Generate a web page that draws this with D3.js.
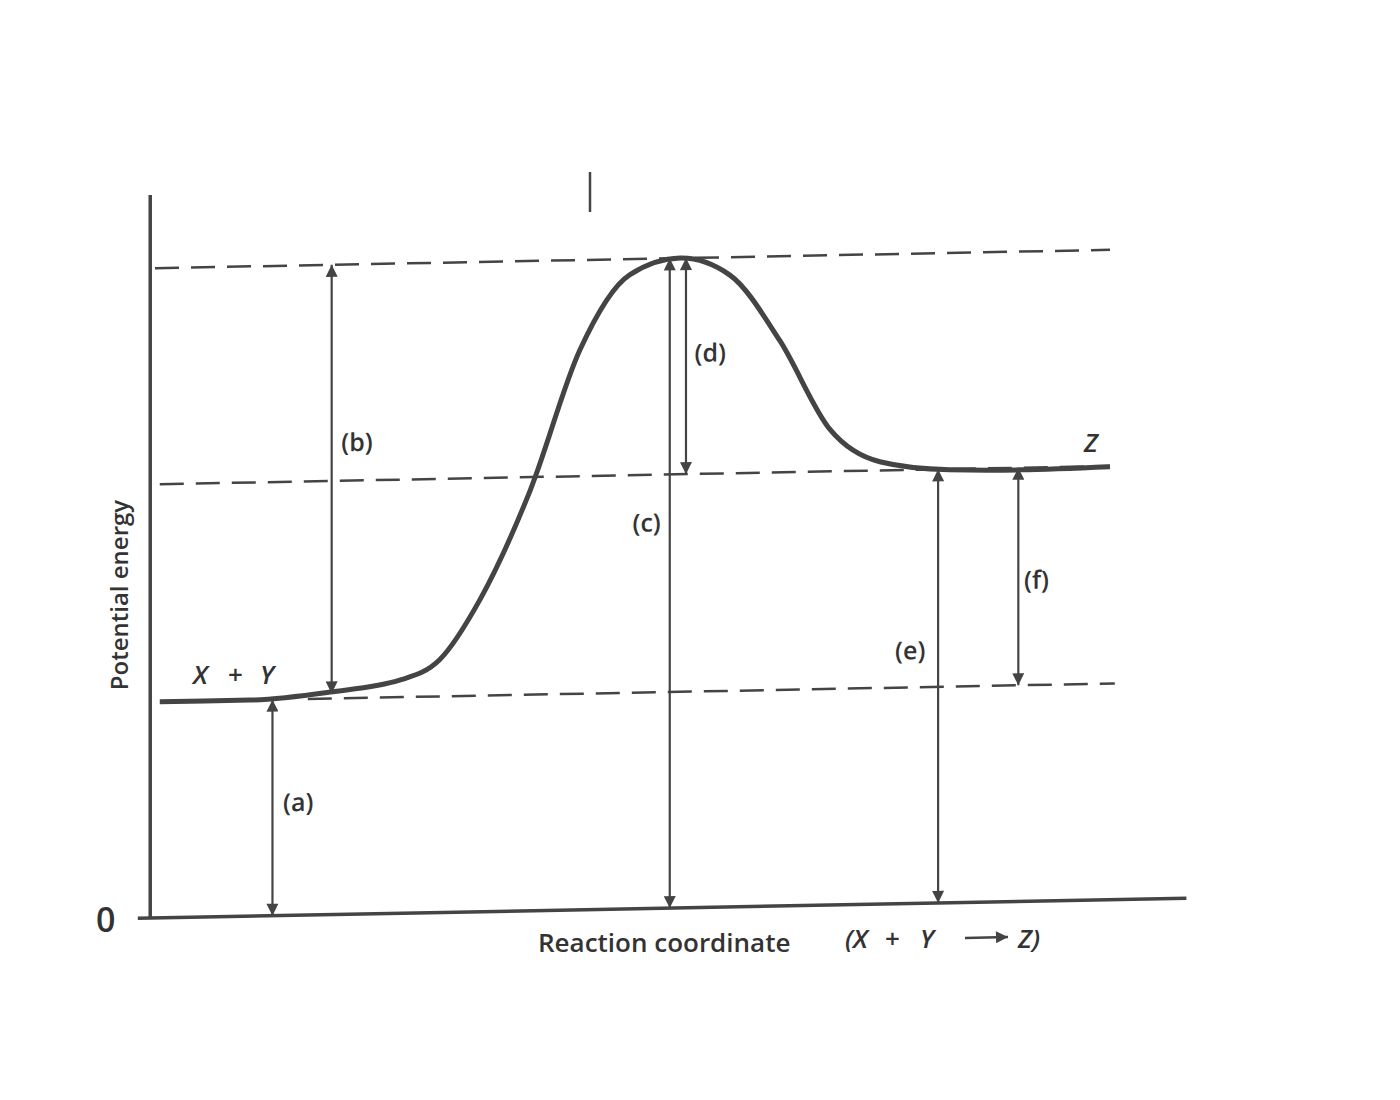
<!DOCTYPE html>
<html><head><meta charset="utf-8">
<script src="https://cdn.jsdelivr.net/npm/d3@7"></script>
<style>body{margin:0;background:#fff}text{font-family:"Open Sans",sans-serif;fill:#333;font-weight:600}</style>
</head><body>
<svg id="chart" width="1400" height="1100"></svg>
<script>
// reaction profile (x: reaction coordinate 0-100, y: energy 0-100)
const curveX = [0.5, 9.9, 18.3, 25.7, 29.8, 34.0, 39.3, 44.5, 49.7, 55.0, 60.2, 65.4, 70.7, 75.9, 83.2, 90.6, 100];
const curveE = [30.1, 30.1, 31.0, 32.5, 35.2, 43.4, 58.6, 78.0, 88.3, 90.5, 88.0, 78.8, 66.2, 61.6, 60.3, 60.1, 60.3];
const levelNames = ["top", "mid", "low"];
const levelE = [90.5, 60.4, 30.1];
const levelX0 = [0, 0.5, 16];
const levelX1 = [100, 100, 100.5];
const arrowNames = ["(a)", "(b)", "(c)", "(d)", "(e)", "(f)"];
const arrowX = [12.3, 18.5, 53.9, 55.6, 82.0, 90.4];
const arrowFrom = [0, 30.8, 0, 90.5, 0, 60.4];
const arrowTo = [30.1, 90.5, 90.5, 60.4, 60.4, 30.1];
const labelX = [13.4, 19.5, 50.0, 56.5, 77.5, 91.0];
const labelE = [14.5, 64.5, 52.5, 76, 34, 43.5];

const svg = d3.select("#chart");
const x = d3.scaleLinear().domain([0, 100]).range([155, 1110]);
const y = d3.scaleLinear().domain([0, 100]).range([918, 200]);
const ink = "#444";

svg.append("defs").append("marker").attr("id", "ah").attr("viewBox", "0 0 10 10")
  .attr("refX", 10).attr("refY", 5).attr("markerWidth", 20).attr("markerHeight", 12)
  .attr("markerUnits", "userSpaceOnUse").attr("orient", "auto-start-reverse")
  .append("path").attr("d", "M0,0L10,5L0,10Z").attr("fill", ink);

// the scan is slightly tilted: skew so verticals stay vertical
const g = svg.append("g").attr("transform", "translate(155,918) skewY(-1.1) translate(-155,-918)");

// axes
g.append("line").attr("x1", x(-0.5)).attr("x2", x(-0.5)).attr("y1", y(0)).attr("y2", y(100.7))
  .attr("stroke", ink).attr("stroke-width", 3.5);
g.append("line").attr("x1", x(-1.8)).attr("x2", x(108)).attr("y1", y(0)).attr("y2", y(0))
  .attr("stroke", ink).attr("stroke-width", 3.5);

// dashed levels
g.selectAll(".lvl").data(levelNames).join("line").attr("class", "lvl")
  .attr("x1", (d, i) => x(levelX0[i])).attr("x2", (d, i) => x(levelX1[i]))
  .attr("y1", (d, i) => y(levelE[i])).attr("y2", (d, i) => y(levelE[i]))
  .attr("stroke", ink).attr("stroke-width", 2.5).attr("stroke-dasharray", "24,12");

// curve
const pts = curveX.map((v, i) => [v, curveE[i]]);
g.append("path").datum(pts)
  .attr("d", d3.line().x(d => x(d[0])).y(d => y(d[1])).curve(d3.curveMonotoneX))
  .attr("fill", "none").attr("stroke", ink).attr("stroke-width", 5);

// double arrows
g.selectAll(".arr").data(arrowNames).join("line").attr("class", "arr")
  .attr("x1", (d, i) => x(arrowX[i])).attr("x2", (d, i) => x(arrowX[i]))
  .attr("y1", (d, i) => y(arrowFrom[i])).attr("y2", (d, i) => y(arrowTo[i]))
  .attr("stroke", ink).attr("stroke-width", 2.2)
  .attr("marker-start", "url(#ah)").attr("marker-end", "url(#ah)");

g.selectAll(".lab").data(arrowNames).join("text").attr("class", "lab")
  .attr("x", (d, i) => x(labelX[i])).attr("y", (d, i) => y(labelE[i]))
  .attr("font-size", 25).text(d => d);

// texts
svg.append("text").attr("transform", "translate(128,595) rotate(-90)").attr("text-anchor", "middle")
  .attr("font-size", 24).text("Potential energy");
svg.append("text").attr("x", 96).attr("y", 932).attr("font-size", 34).text("0");
svg.append("text").attr("x", 538).attr("y", 952).attr("font-size", 26).text("Reaction coordinate");
svg.append("text").attr("x", 845).attr("y", 948).attr("font-size", 26).attr("font-style", "italic").text("(X");
svg.append("text").attr("x", 885).attr("y", 948).attr("font-size", 26).text("+");
svg.append("text").attr("x", 920).attr("y", 948).attr("font-size", 26).attr("font-style", "italic").text("Y");
svg.append("text").attr("x", 1018).attr("y", 948).attr("font-size", 26).attr("font-style", "italic").text("Z)");
svg.append("line").attr("x1", 965).attr("x2", 1008).attr("y1", 938).attr("y2", 937)
  .attr("stroke", ink).attr("stroke-width", 2.5).attr("marker-end", "url(#ah)");
svg.append("text").attr("x", 193).attr("y", 684).attr("font-size", 26).attr("font-style", "italic").text("X");
svg.append("text").attr("x", 228).attr("y", 684).attr("font-size", 26).text("+");
svg.append("text").attr("x", 260).attr("y", 684).attr("font-size", 26).attr("font-style", "italic").text("Y");
svg.append("text").attr("x", 1084).attr("y", 452).attr("font-size", 26).attr("font-style", "italic").text("Z");
svg.append("line").attr("x1", 590).attr("x2", 590).attr("y1", 172).attr("y2", 212)
  .attr("stroke", ink).attr("stroke-width", 2.5);
</script>
</body></html>
